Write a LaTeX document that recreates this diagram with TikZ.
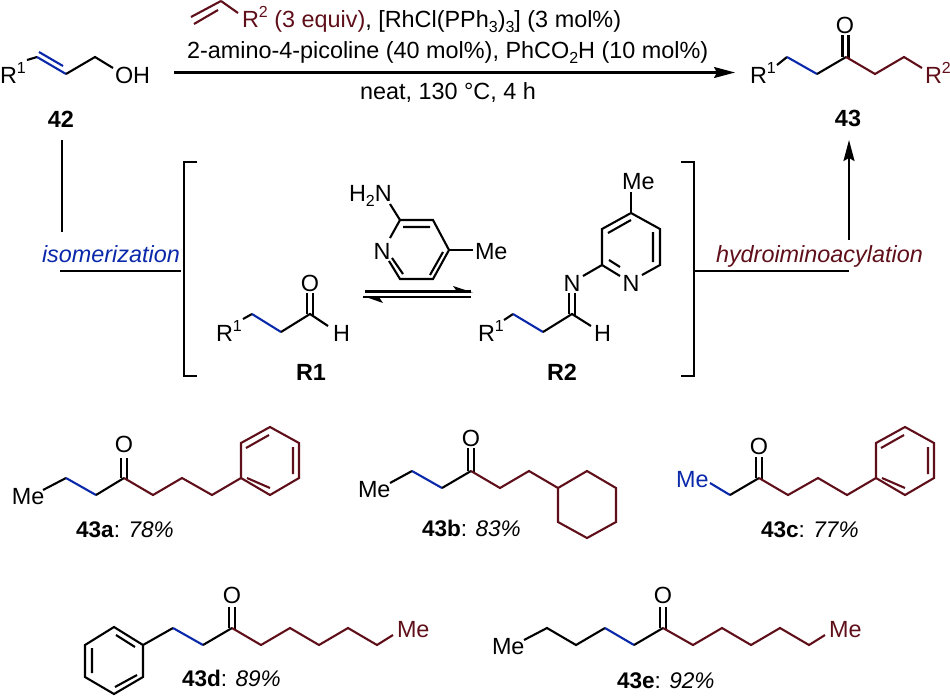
\documentclass[tikz,border=0pt]{standalone}
\usepackage{fontspec}
\setmainfont{Liberation Sans}
\usetikzlibrary{arrows.meta}
\definecolor{dred}{RGB}{95,15,25}
\definecolor{dblue}{RGB}{10,40,170}
\tikzset{
  x=1pt,y=-1pt,
  bond/.style={line width=2.1pt,line join=miter,line cap=butt},
  red bond/.style={bond,draw=dred},
  blue bond/.style={bond,draw=dblue},
  conn/.style={line width=2.1pt},
  atom/.style={inner sep=0pt,outer sep=0pt,font=\fontsize{23.4}{27}\selectfont,anchor=base west,text height=0pt,text depth=0pt},
  atomc/.style={inner sep=0pt,outer sep=0pt,font=\fontsize{23.4}{27}\selectfont},
  tag/.style={inner sep=0pt,outer sep=0pt,font=\fontsize{23.4}{27}\selectfont,anchor=base},
  yield/.style={atom,font=\fontsize{22.6}{26}\selectfont},
}
\newcommand{\sub}[1]{\raisebox{-0.25em}{\fontsize{16}{16}\selectfont #1}}
\newcommand{\supr}[1]{\raisebox{0.42em}{\fontsize{16}{16}\selectfont #1}}
\begin{document}
\begin{tikzpicture}
\useasboundingbox (0,0) rectangle (950,697);
% 42
\node[atom] (r42) at (0,83) {R\supr{1}};
\node[atom] (oh42) at (115,83) {OH};
\node[tag] (l42) at (61,127) {\textbf{42}};
\draw[bond] (27,60) -- (37,57);
\draw[blue bond] (37,57) -- (66,74);
\draw[blue bond] (39,52) -- (63,66);
\draw[bond] (66,74) -- (95,57) -- (113,68);
% main arrow
\coordinate (a1) at (174,72.5);
\coordinate (a2) at (735,72.5);
\draw[conn,-{Stealth[length=21pt,width=11pt,inset=3pt]}] (a1) -- (a2);
% conditions
\draw[red bond] (191,17) -- (221,1);
\draw[red bond] (194,24) -- (218,10);
\draw[red bond] (221,1) -- (238,13);
\node[atom] (c1) at (242,27) {\textcolor{dred}{R\supr{2} (3 equiv)}, [RhCl(PPh\sub{3})\sub{3}] (3 mol\%)};
\node[atom] (c2) at (187,58) {2-amino-4-picoline (40 mol\%), PhCO\sub{2}H (10 mol\%)};
\node[atom] (c3) at (360,99) {neat, 130 °C, 4 h};
% 43
\node[atom] (r43) at (750,83) {R\supr{1}};
\node[atom] (r243) at (925,83) {\textcolor{dred}{R\supr{2}}};
\node[atomc] (o43) at (845,25) {O};
\node[tag] (l43) at (848,126) {\textbf{43}};
\draw[bond] (777,65) -- (787,57);
\draw[blue bond] (787,57) -- (817,74);
\draw[bond] (817,74) -- (846,57);
\draw[bond] (842.5,57) -- (842.5,35) (848.5,58) -- (848.5,35);
\draw[red bond] (846,57) -- (875,74) -- (904,57) -- (922,68);
% side connectors
\coordinate (s1) at (62,140);
\coordinate (s2) at (62,232);
\coordinate (s3) at (60,271);
\coordinate (s4) at (181,271);
\draw[conn] (s1) -- (s2);
\draw[conn] (s3) -- (s4);
\node[atom] (iso) at (42,262) {\textcolor{dblue}{\itshape isomerization}};
\coordinate (h1) at (695,271);
\coordinate (h2) at (849,271);
\coordinate (h3) at (849,240);
\coordinate (h4) at (849,140);
\draw[conn] (h1) -- (h2);
\draw[conn,-{Stealth[length=21pt,width=11pt,inset=3pt]}] (h3) -- (h4);
\node[atom] (hyd) at (716,262) {\textcolor{dred}{\itshape hydroiminoacylation}};
% brackets
\draw[conn] (197,162) -- (184,162) -- (184,376) -- (197,376);
\draw[conn] (681,162) -- (694,162) -- (694,376) -- (681,376);
% aminopicoline
\node[atom] (nh2) at (349,201) {H\sub{2}N};
\node[atomc] (npy) at (382,251) {N};
\node[atom] (me1) at (475,259) {Me};
\draw[bond] (390,204) -- (400,220) -- (433,220) -- (449,250) -- (433,279) -- (400,279) -- (389,261);
\draw[bond] (400,220) -- (390,238);
\draw[bond] (403,227) -- (430,227) (443,252) -- (430,275) (403,274) -- (392,258);
\draw[bond] (449,250) -- (473,250);
% equilibrium
\draw[conn] (365,291.5) -- (471,291.5);
\draw[conn] (363,297) -- (471,297);
\fill (473,292.5) -- (453,286) -- (457,291.5) -- cycle;
\fill (363,296) -- (383,303) -- (379,297) -- cycle;
% R1
\node[atom] (rr1) at (216,341) {R\supr{1}};
\node[atomc] (o1) at (310,283) {O};
\node[atom] (h1a) at (333,341) {H};
\node[tag] (lr1) at (311,380) {\textbf{R1}};
\draw[bond] (243,319) -- (252,314);
\draw[blue bond] (252,314) -- (281,332);
\draw[bond] (281,332) -- (310,314) -- (328,326);
\draw[bond] (307,314) -- (307,293) (313,315) -- (313,293);
% R2
\node[atom] (rr2) at (478,341) {R\supr{1}};
\node[atomc] (n2) at (572,283) {N};
\node[atom] (h2a) at (594,341) {H};
\node[tag] (lr2) at (562,380) {\textbf{R2}};
\draw[bond] (504,320) -- (513,314);
\draw[blue bond] (513,314) -- (543,332);
\draw[bond] (543,332) -- (572,314) -- (591,326);
\draw[bond] (569,314) -- (569,293) (575,315) -- (575,293);
\draw[bond] (583,276) -- (602,265) -- (602,229) -- (631,213) -- (660,229) -- (660,265) -- (642,275);
\draw[bond] (602,265) -- (620,276);
\draw[bond] (609,260) -- (620,267) (608,233) -- (631,220) (653,232) -- (653,262);
\draw[bond] (631,213) -- (631,192);
\node[atom] (me2) at (622,189) {Me};
\node[atomc] (npy2) at (631,283) {N};
% 43a
\node[atom] (mea) at (12,504) {Me};
\node[atomc] (oa) at (124,444) {O};
\draw[bond] (43,490) -- (66,478);
\draw[blue bond] (66,478) -- (96,495);
\draw[bond] (96,495) -- (124,478);
\draw[bond] (121,478) -- (121,458) (127,479) -- (127,458);
\draw[red bond] (124,478) -- (153,495) -- (182,478) -- (212,495) -- (241,478) -- (241,443) -- (270,427) -- (299,443) -- (299,478) -- (270,495) -- (241,478);
\draw[red bond] (246,448) -- (269,435) (293,447) -- (293,474) (247,478) -- (270,488);
\node[yield] (la) at (76,537) {\textbf{43a}: \textit{78\%}};
% 43b
\node[atom] (meb) at (358,497) {Me};
\node[atomc] (ob) at (471,438) {O};
\draw[bond] (390,483) -- (412,471);
\draw[blue bond] (412,471) -- (442,488);
\draw[bond] (442,488) -- (471,471);
\draw[bond] (468,471) -- (468,448) (474,472) -- (474,448);
\draw[red bond] (471,471) -- (500,488) -- (529,471) -- (558,488) -- (587,471) -- (616,488) -- (616,522) -- (587,538) -- (558,522) -- (558,488);
\node[yield] (lb) at (422,536) {\textbf{43b}: \textit{83\%}};
% 43c
\node[atom] (mec) at (676,487) {\textcolor{dblue}{Me}};
\node[atomc] (oc) at (759,446) {O};
\draw[blue bond] (710,483) -- (730,495);
\draw[bond] (730,495) -- (759,478);
\draw[bond] (756,478) -- (756,457) (762,479) -- (762,457);
\draw[red bond] (759,478) -- (788,495) -- (818,478) -- (847,495) -- (876,478) -- (876,443) -- (905,427) -- (934,443) -- (934,478) -- (905,495) -- (876,478);
\draw[red bond] (881,448) -- (904,435) (928,447) -- (928,474) (882,478) -- (905,488);
\node[yield] (lc) at (761,537) {\textbf{43c}: \textit{77\%}};
% 43d
\draw[bond] (173,628) -- (143,645) -- (114,627) -- (85,645) -- (85,677) -- (114,694) -- (143,677) -- (143,645);
\draw[bond] (116,635) -- (135,647) (92,648) -- (92,673) (115,687) -- (137,675);
\draw[blue bond] (173,628) -- (203,645);
\draw[bond] (203,645) -- (232,628);
\draw[bond] (229,628) -- (229,607) (235,629) -- (235,607);
\draw[red bond] (232,628) -- (261,645) -- (290,628) -- (319,645) -- (348,628) -- (377,645) -- (393,635);
\node[atomc] (od) at (232,595) {O};
\node[atom] (med) at (397,637) {\textcolor{dred}{Me}};
\node[yield] (ld) at (182,686) {\textbf{43d}: \textit{89\%}};
% 43e
\node[atom] (mee) at (492,654) {Me};
\draw[bond] (524,640) -- (547,628) -- (576,645) -- (605,628);
\draw[blue bond] (605,628) -- (634,645);
\draw[bond] (634,645) -- (663,628);
\draw[bond] (660,628) -- (660,607) (666,629) -- (666,607);
\draw[red bond] (663,628) -- (693,645) -- (722,628) -- (751,645) -- (780,628) -- (809,645) -- (825,635);
\node[atomc] (oe) at (663,595) {O};
\node[atom] (mef) at (829,637) {\textcolor{dred}{Me}};
\node[yield] (le) at (617,688) {\textbf{43e}: \textit{92\%}};
\end{tikzpicture}
\end{document}
